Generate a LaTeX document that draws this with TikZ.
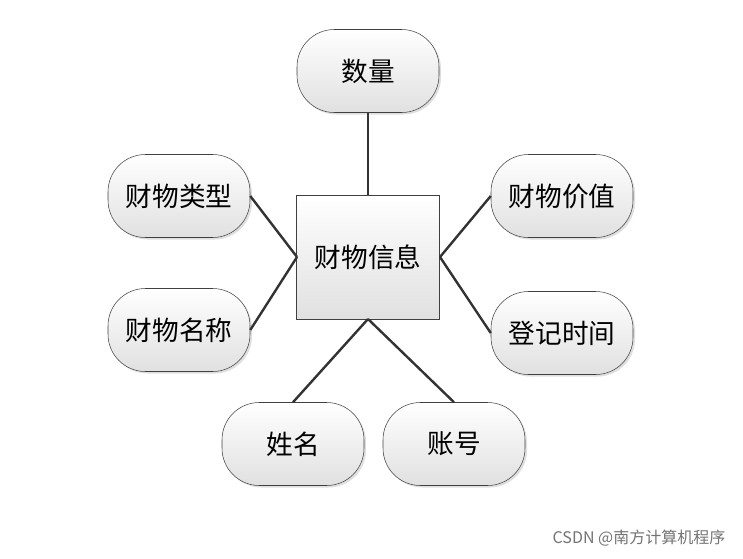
\documentclass[tikz,border=0pt]{standalone}
\usepackage{fontspec}
\setmainfont{Noto Sans CJK SC}
\usetikzlibrary{shadows}
\begin{document}
\begin{tikzpicture}[x=0.75pt,y=-0.75pt,
  attr/.style={draw=black!75,rounded corners=28pt,minimum width=142*0.75pt,minimum height=83*0.75pt,
    top color=white,bottom color=black!12,drop shadow={shadow xshift=1.5pt,shadow yshift=-1.5pt,fill=black!25},
    font=\fontsize{20}{24}\selectfont,inner sep=0pt},
  ent/.style={draw=black!75,minimum width=143*0.75pt,minimum height=124*0.75pt,
    top color=white,bottom color=black!12,font=\fontsize{20}{24}\selectfont,inner sep=0pt},
  conn/.style={draw=black!80,line width=1.8pt}]
\useasboundingbox (0,0) rectangle (743,558);
\node[ent] (c) at (368,257) {财物信息};
\node[attr] (sl) at (368,71) {数量};
\node[attr] (lx) at (179,196) {财物类型};
\node[attr] (mc) at (179,330) {财物名称};
\node[attr] (jz) at (562,196) {财物价值};
\node[attr] (dj) at (562,333) {登记时间};
\node[attr] (xm) at (293,444) {姓名};
\node[attr] (zh) at (454,444) {账号};
\coordinate (cl) at (297,257);
\coordinate (cr) at (440,257);
\coordinate (cb) at (368,319);
\draw[conn] (sl.south) -- (c.north);
\draw[conn] (lx.east) -- (cl);
\draw[conn] (mc.east) -- (cl);
\draw[conn] (jz.west) -- (cr);
\draw[conn] (dj.west) -- (cr);
\draw[conn] (xm.north) -- (cb);
\draw[conn] (zh.north) -- (cb);
\node[text=black!55,font=\fontsize{12}{14}\selectfont,anchor=east] (wm) at (730,538) {CSDN @南方计算机程序};
\end{tikzpicture}
\end{document}
